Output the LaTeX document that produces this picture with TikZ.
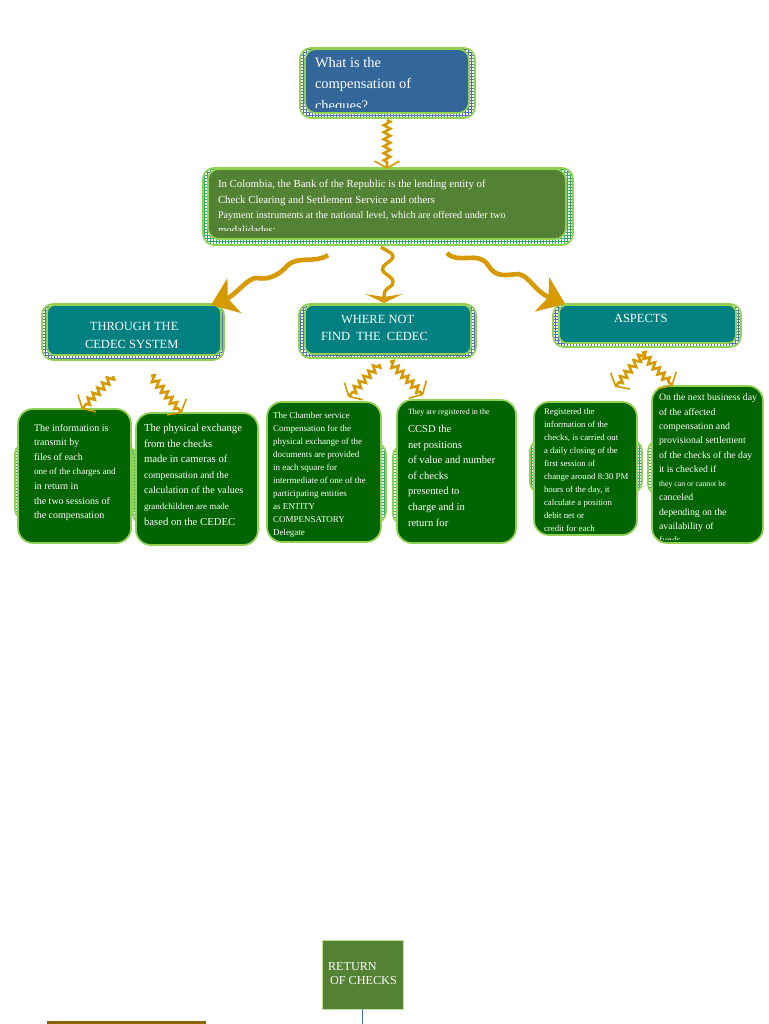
\documentclass[tikz,border=0pt]{standalone}
\usepackage{fontspec}
\setmainfont{Liberation Serif}
\usetikzlibrary{arrows.meta,patterns,decorations.pathmorphing}
\definecolor{qblue}{HTML}{336699}
\definecolor{mossgreen}{HTML}{548235}
\definecolor{tealbox}{HTML}{008080}
\definecolor{darkleaf}{HTML}{006400}
\definecolor{rimgreen}{HTML}{92D050}
\definecolor{arrowgold}{HTML}{D69A00}
\definecolor{barbrown}{HTML}{8B6508}
\definecolor{linkblue}{HTML}{4472C4}
\definecolor{gridblue}{HTML}{4F6FB8}
\definecolor{gridgreen}{HTML}{2FA86A}
\newcommand{\fs}[1]{\fontsize{#1}{8}\selectfont}
\tikzset{
  boxbase/.style={rectangle, inner sep=0pt, outer sep=0pt, draw=rimgreen, line width=1.7pt},
  hatchblue/.style={boxbase, rounded corners=11pt, pattern=grid, pattern color=gridblue},
  hatchgreen/.style={boxbase, rounded corners=11pt, pattern=grid, pattern color=gridgreen},
  bluebox/.style={boxbase, rounded corners=11pt, fill=qblue},
  mossbox/.style={boxbase, rounded corners=11pt, fill=mossgreen},
  tealcard/.style={boxbase, rounded corners=8pt, fill=tealbox},
  leafbox/.style={boxbase, rounded corners=15pt, fill=darkleaf},
  words/.style={inner sep=0pt, outer sep=0pt, anchor=north west, align=left, text=white},
  wave/.style={draw=arrowgold, line width=4.6pt, -{Stealth[length=25pt,width=37pt,inset=7pt]}},
  zig/.style={draw=arrowgold, line width=2.6pt, -{Straight Barb[length=7pt,width=25pt,line width=1.6pt]},
    decorate, decoration={zigzag,segment length=7pt,amplitude=3.2pt,post=lineto,post length=4pt}}
}
\begin{document}
\begin{tikzpicture}[x=1pt, y=-1pt]
    \clip (0,0) rectangle (768,1024);
    \fill[white] (0,0) rectangle (768,1024);

    % hatched backing
    \node[hatchblue, minimum width=175pt, minimum height=70pt] (qback) at (387.5,83) {};
    \node[hatchgreen, minimum width=370pt, minimum height=77pt] (mainback) at (388,206.5) {};
    \node[hatchblue, minimum width=182pt, minimum height=56pt] (throughback) at (133,332) {};
    \node[hatchblue, minimum width=177pt, minimum height=54pt] (whereback) at (387.5,331) {};
    \node[hatchblue, minimum width=188pt, minimum height=43pt] (aspectsback) at (647,325.5) {};
    \node[hatchgreen, minimum width=119pt, minimum height=77pt] (infoback) at (74.5,481.5) {};
    \node[hatchgreen, minimum width=125pt, minimum height=80pt] (physback) at (195.5,485) {};
    \node[hatchgreen, minimum width=119pt, minimum height=80pt] (chamberback) at (326.5,483) {};
    \node[hatchgreen, minimum width=123pt, minimum height=80pt] (ccsdback) at (454.5,485) {};
    \node[hatchgreen, minimum width=112pt, minimum height=53pt] (closeback) at (586,466.5) {};
    \node[hatchgreen, minimum width=115pt, minimum height=55pt] (nextback) at (705.5,467.5) {};

    % boxes
    \node[bluebox, minimum width=164pt, minimum height=64pt] (question) at (387,81) {};
    \node[mossbox, minimum width=358pt, minimum height=70pt] (colombia) at (387,204) {};
    \node[tealcard, minimum width=174pt, minimum height=50pt] (through) at (134,330) {};
    \node[tealcard, minimum width=166pt, minimum height=49pt] (where) at (388,329.5) {};
    \node[tealcard, minimum width=177pt, minimum height=38pt] (aspects) at (647.5,324) {};
    \node[leafbox, minimum width=113pt, minimum height=134pt] (info) at (74.5,476) {};
    \node[leafbox, minimum width=122pt, minimum height=132pt] (phys) at (197,479) {};
    \node[leafbox, minimum width=114pt, minimum height=140pt] (chamber) at (324,472) {};
    \node[leafbox, minimum width=119pt, minimum height=143pt] (ccsd) at (456.5,471.5) {};
    \node[leafbox, minimum width=103pt, minimum height=133pt] (closing) at (585.5,468.5) {};
    \node[leafbox, minimum width=111pt, minimum height=157pt] (nextday) at (707.5,464.5) {};
    \node[rectangle, draw=rimgreen!60, line width=0.5pt, fill=mossgreen, minimum width=81pt, minimum height=69pt,
          inner sep=0pt, outer sep=0pt] (return) at (362.5,974.5) {};
    \node[rectangle, fill=barbrown, minimum width=159pt, minimum height=10pt, inner sep=0pt, outer sep=0pt] (brownbar) at (126.5,1026) {};

    % texts
    \begin{scope}
        \clip (305,49) rectangle (469,108);
        \node[words, font=\fontsize{14.5}{21.5}\selectfont] (questiontext) at (315,57) {What is the\\compensation of\\cheques?};
    \end{scope}
    \begin{scope}
        \clip (208,169) rectangle (566,231);
        \node[words, font=\fontsize{10.8}{15.4}\selectfont] (colombiatext) at (218,180) {In Colombia, the Bank of the Republic is the lending entity of\\Check Clearing and Settlement Service and others\\{\fs{10.15}Payment instruments at the national level, which are offered under two}\\modalidades:};
    \end{scope}
    \node[words, align=right, font=\fontsize{12.5}{18}\selectfont] (throughtext) at (85,322) {THROUGH THE\\CEDEC SYSTEM};
    \node[words, align=left, font=\fontsize{12.5}{17.5}\selectfont] (wheretext) at (321,315) {\hspace*{20pt}WHERE NOT\\FIND\ \ THE\ \ CEDEC};
    \node[words, font=\fontsize{12.5}{17}\selectfont] (aspectstext) at (614,314) {ASPECTS};
    \node[words, font=\fontsize{10}{14.6}\selectfont] (infotext) at (34,424) {The information is\\transmit by\\files of each\\{\fs{9.1}one of the charges and}\\in return in\\the two sessions of\\the compensation};
    \node[words, font=\fontsize{10.7}{15.6}\selectfont] (phystext) at (144,424) {The physical exchange\\from the checks\\made in cameras of\\{\fs{9.7}compensation and the}\\{\fs{10.2}calculation of the values}\\{\fs{9}grandchildren are made}\\based on the CEDEC};
    \node[words, font=\fontsize{9}{13}\selectfont] (chambertext) at (273,412) {The Chamber service\\Compensation for the\\physical exchange of the\\documents are provided\\in each square for\\intermediate of one of the\\participating entities\\as ENTITY\\COMPENSATORY\\Delegate};
    \node[words, font=\fontsize{10.6}{15.6}\selectfont] (ccsdtext) at (408,409) {{\fs{8}They are registered in the}\\[2.4pt]CCSD the\\net positions\\of value and number\\of checks\\presented to\\charge and in\\return for};
    \begin{scope}
        \clip (534,402) rectangle (637,533);
        \node[words, font=\fontsize{8.8}{13.05}\selectfont] (closingtext) at (544,408) {Registered the\\information of the\\checks, is carried out\\a daily closing of the\\first session of\\change around 8:30 PM\\hours of the day, it\\calculate a position\\debit net or\\credit for each};
    \end{scope}
    \begin{scope}
        \clip (652,386) rectangle (763,539);
        \node[words, font=\fontsize{9.8}{14.3}\selectfont] (nextdaytext) at (659,394) {On the next business day\\of the affected\\compensation and\\provisional settlement\\of the checks of the day\\it is checked if\\{\fs{7.8}they can or cannot be}\\canceled\\depending on the\\availability of\\funds};
    \end{scope}
    \node[words, font=\fontsize{12.2}{14.5}\selectfont] (returntext) at (328,962) {RETURN\\\,OF CHECKS};

    % free ends of the connectors
    \coordinate (colombialeft) at (328,255);
    \coordinate (colombiamid) at (381,247);
    \coordinate (colombiaright) at (447,253);
    \coordinate (throughleft) at (113,376);
    \coordinate (throughright) at (151,376);
    \coordinate (whereleft) at (379,364);
    \coordinate (whereright) at (390,362);
    \coordinate (aspectsleft) at (644,353);
    \coordinate (aspectsright) at (642,353);
    \coordinate (pagefoot) at (362.5,1024);

    % connectors
    \draw[zig] ([yshift=-7pt]question.south) -- (colombia.north);
    \draw[wave] (colombialeft) .. controls (315,264) and (298,255) .. (287,266) .. controls (278,276) and (268,280) .. (257,278) .. controls (248,277) and (236,295) .. (through.18);
    \draw[wave, -{Stealth[length=9pt,width=37pt,inset=3pt]}, line width=3.4pt] (colombiamid) .. controls (388,252) and (397,254) .. (391,260) .. controls (385,265) and (378,268) .. (386,274) .. controls (394,279) and (396,284) .. (388,288) .. controls (384,291) and (384,294) .. ([xshift=-4pt,yshift=2pt]where.north);
    \draw[wave] (colombiaright) .. controls (458,265) and (478,250) .. (488,265) .. controls (496,278) and (505,275) .. (518,274) .. controls (530,276) and (534,291) .. ([yshift=1pt]aspects.167);
    \draw[zig] (throughleft) -- (info.84);
    \draw[zig] (throughright) -- (phys.103);
    \draw[zig] (whereleft) -- ([yshift=5pt]chamber.71);
    \draw[zig] (whereright) -- ([yshift=5pt]ccsd.115);
    \draw[zig] (aspectsleft) -- ([yshift=15pt]closing.66);
    \draw[zig] (aspectsright) -- (nextday.114);
    \draw[linkblue, line width=1.2pt] (return.south) -- (pagefoot);
\end{tikzpicture}
\end{document}
